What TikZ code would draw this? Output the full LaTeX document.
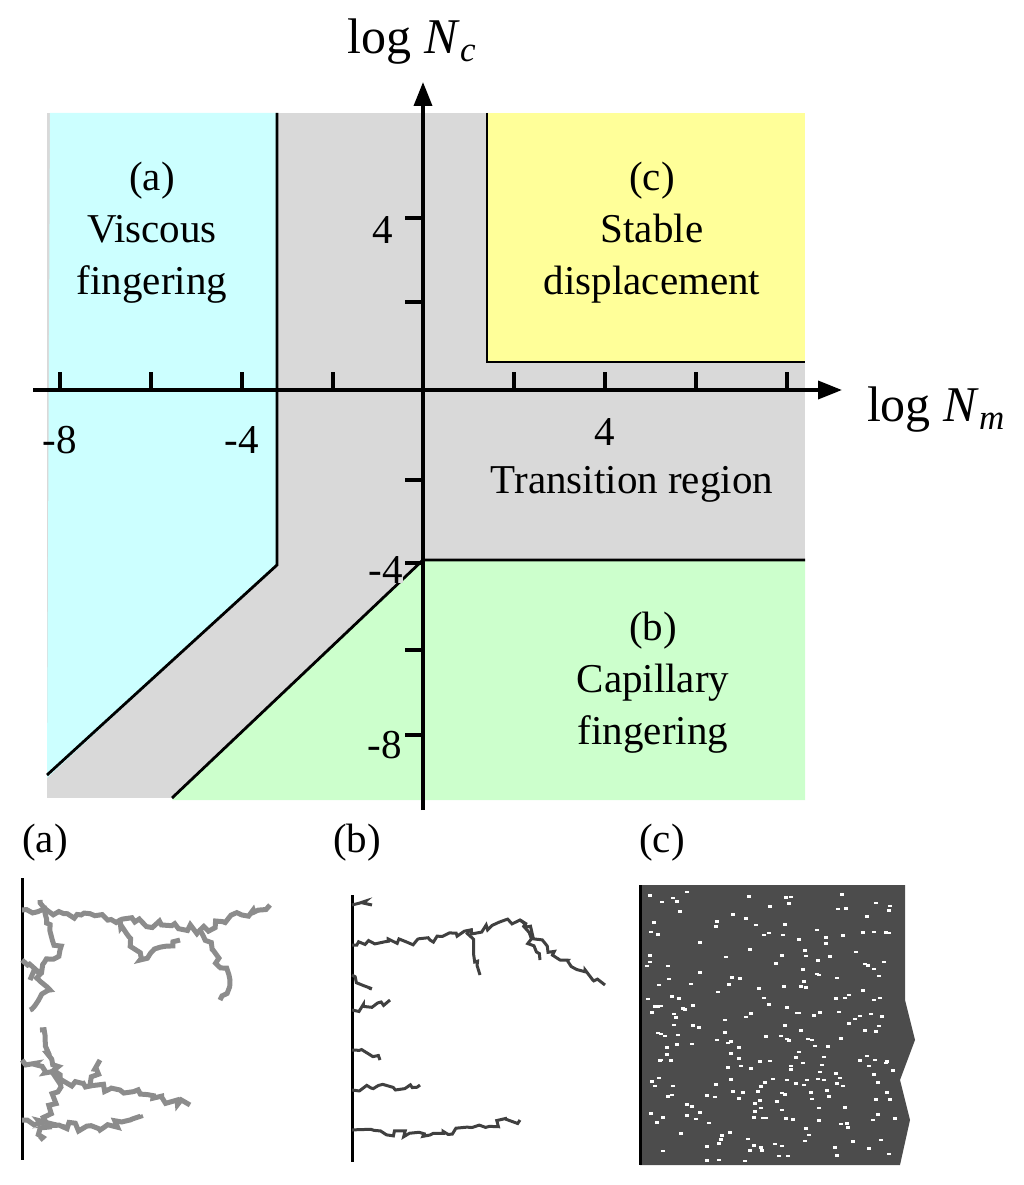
\documentclass[tikz,border=0pt]{standalone}
\usepackage{fontspec}
\setmainfont{Liberation Serif}
\usetikzlibrary{arrows.meta,decorations.pathmorphing}
\definecolor{cy}{RGB}{204,255,255}
\definecolor{gr}{RGB}{217,217,217}
\definecolor{ye}{RGB}{255,255,153}
\definecolor{gn}{RGB}{204,255,204}
\tikzset{lbl/.style={font=\fontsize{41}{52}\selectfont,inner sep=0},
 bnd/.style={line width=2.8pt},
 ax/.style={line width=3.5pt},
 frac/.style={line width=5pt,decorate,decoration={random steps,segment length=5pt,amplitude=4pt}}}
\begin{document}
\begin{tikzpicture}[x=1pt,y=-1pt]
\useasboundingbox (0,0) rectangle (1024,1185);
\fill[gr] (47,113) rectangle (805,798);
\fill[cy] (50,113) -- (277,113) -- (277,565) -- (47,778) -- cycle;
\fill[ye] (487,113) rectangle (805,362);
\fill[gn] (423,560) -- (805,560) -- (805,800) -- (172,800) -- cycle;
\draw[bnd] (277,113) -- (277,565) -- (47,775);
\draw[bnd] (487,113) -- (487,362) -- (805,362);
\draw[bnd] (805,560) -- (423,560) -- (172,798);
\coordinate (xs) at (33,390); \coordinate (xe) at (842,390);
\coordinate (ys) at (423,810); \coordinate (ye) at (423,82);
\draw[ax,-{Triangle[length=24pt,width=18pt]}] (xs) -- (xe);
\draw[ax,-{Triangle[length=24pt,width=18pt]}] (ys) -- (ye);
\foreach \x in {60,151,242,333,514,605,696,787} \draw[ax] (\x,390) -- (\x,372);
\foreach \y in {218,302,480,563,650,735} \draw[ax] (423,\y) -- (405,\y);
\node[lbl] (t1) at (60,440) {-8};
\node[lbl] (t2) at (242,440) {-4};
\node[lbl] (t3) at (605,432) {4};
\node[lbl] (t4) at (383,230) {4};
\node[lbl,fill=gr] (t5) at (386,570) {-4};
\node[lbl] (t6) at (385,745) {-8};
\node[lbl,font=\fontsize{50}{52}\selectfont] (lc) at (412,42) {log \textit{N}\textsubscript{\textit{c}}};
\node[lbl,font=\fontsize{50}{52}\selectfont] (lm) at (936,410) {log \textit{N}\textsubscript{\textit{m}}};
\node[lbl,align=center] (ra) at (152,233) {(a)\\Viscous\\fingering};
\node[lbl,align=center] (rc) at (652,233) {(c)\\Stable\\displacement};
\node[lbl] (rt) at (632,484) {Transition region};
\node[lbl,align=center] (rb) at (653,683) {(b)\\Capillary\\fingering};
\node[lbl] (pa) at (45,843) {(a)};
\node[lbl] (pb) at (357,843) {(b)};
\node[lbl] (pc) at (662,843) {(c)};
% panel a
\draw[line width=3pt] (22,878) -- (22,1160);
\pgfmathsetseed{7}
\begin{scope}[color=gray!90]
\draw[frac] (22,910) -- (120,920) -- (200,930) -- (270,905);
\draw[frac] (40,900) -- (60,950) -- (30,980);
\draw[frac] (120,920) -- (140,960) -- (180,940);
\draw[frac] (200,930) -- (230,980) -- (220,1000);
\draw[frac] (22,1060) -- (60,1080) -- (120,1090) -- (190,1105);
\draw[frac] (40,1030) -- (60,1080) -- (40,1140);
\draw[frac] (22,1120) -- (100,1130) -- (140,1115);
\draw[frac] (90,1085) -- (100,1060);
\draw[frac] (22,960) -- (50,990) -- (30,1010);
\end{scope}
% panel b
\draw[line width=3pt] (352,895) -- (352,1162);
\begin{scope}[color=black!75]
\draw[frac,line width=3pt] (352,945) -- (430,940) -- (520,920) -- (560,960) -- (605,985);
\draw[frac,line width=3pt] (470,930) -- (480,975);
\draw[frac,line width=3pt] (520,920) -- (540,960);
\draw[frac,line width=3pt] (352,1130) -- (430,1135) -- (520,1120);
\draw[frac,line width=3pt] (352,1090) -- (420,1085);
\draw[frac,line width=3pt] (352,1010) -- (390,1000);
\draw[frac,line width=3pt] (352,1050) -- (380,1060);
\draw[frac,line width=3pt] (352,975) -- (370,990);
\draw[frac,line width=3pt] (352,905) -- (372,905);
\end{scope}
% panel c
\fill[black!70] (640,885) -- (905,885) -- (905,1000) -- (915,1040) -- (900,1080) -- (910,1120) -- (900,1165) -- (640,1165) -- cycle;
\draw[line width=3pt] (640,885) -- (640,1165);
\pgfmathsetseed{3}
\foreach \i in {1,...,260}{
 \pgfmathsetmacro{\px}{645+rnd*250}
 \pgfmathsetmacro{\py}{890+rnd*270}
 \fill[white] (\px,\py) rectangle ++(4,2.5);
}
\end{tikzpicture}
\end{document}
